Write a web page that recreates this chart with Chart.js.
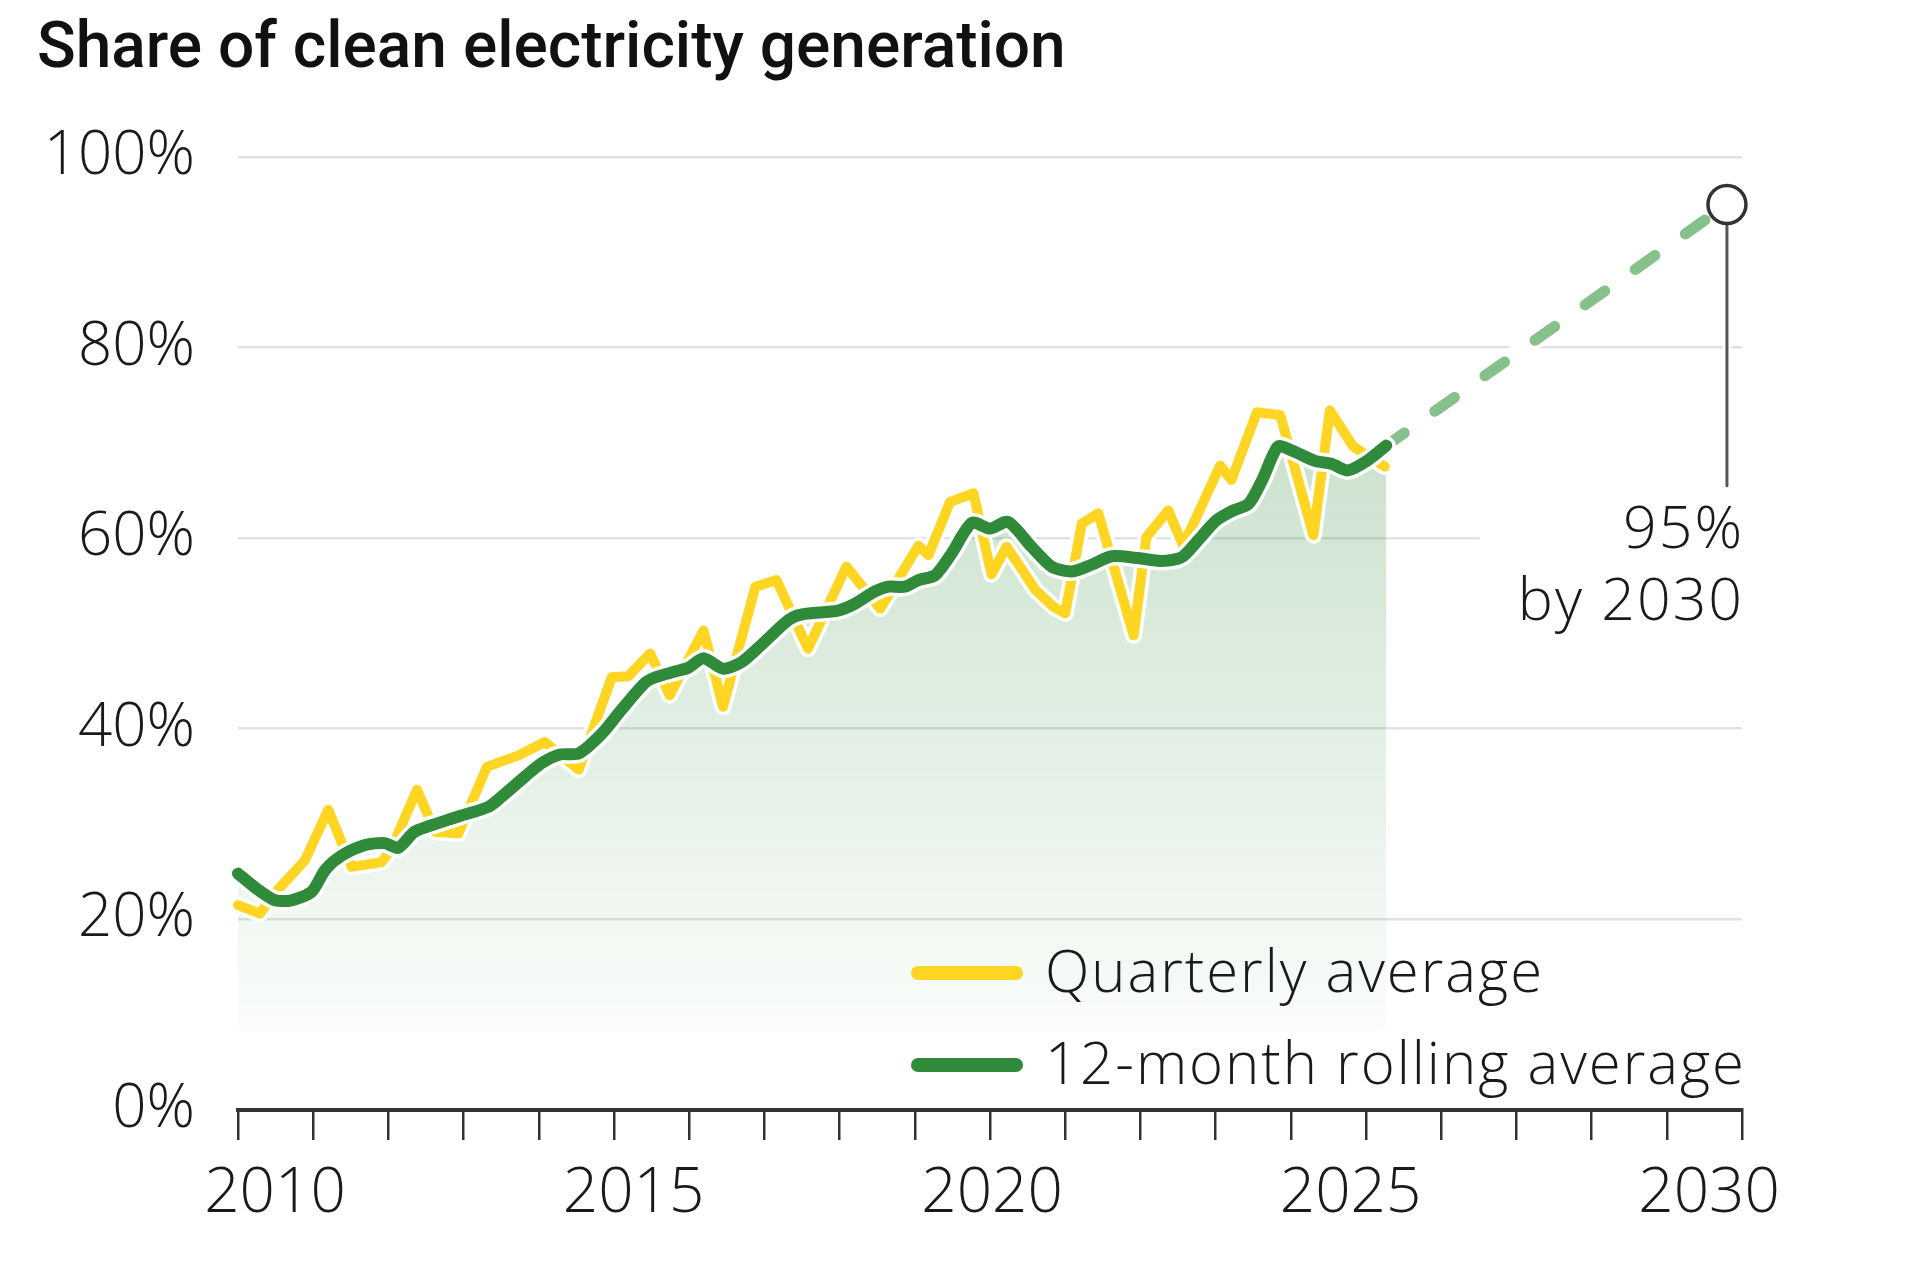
<!DOCTYPE html>
<html>
<head>
<meta charset="utf-8">
<script src="https://cdn.jsdelivr.net/npm/chart.js@4.4.1/dist/chart.umd.min.js"></script>
<style>
  html, body { margin: 0; padding: 0; background: #ffffff; }
  #wrap { position: relative; width: 1920px; height: 1274px; }
  canvas { display: block; }
</style>
</head>
<body>
<div id="wrap"><canvas id="c" width="1920" height="1274"></canvas></div>
<script>
// ---------------- data ----------------
const titleText = 'Share of clean electricity generation';
const yTickValues = [0, 20, 40, 60, 80, 100];
const xLabelYears = [2010, 2015, 2020, 2025, 2030];
const legendLabels = ['Quarterly average', '12-month rolling average'];

const quarterlyYears = [
  2010.00, 2010.29, 2010.54, 2010.89, 2011.20, 2011.51, 2011.91, 2012.04, 2012.38, 2012.62,
  2012.93, 2013.31, 2013.73, 2014.08, 2014.53, 2014.97, 2015.19, 2015.48, 2015.74, 2016.19,
  2016.45, 2016.88, 2017.16, 2017.58, 2018.09, 2018.54, 2019.05, 2019.18, 2019.47, 2019.78,
  2020.02, 2020.22, 2020.40, 2020.60, 2020.84, 2021.00, 2021.22, 2021.44, 2021.91, 2022.08,
  2022.37, 2022.57, 2023.06, 2023.21, 2023.55, 2023.86, 2024.30, 2024.52, 2024.83, 2025.25
];
const quarterlyValues = [
  21.5, 20.6, 23.2, 26.2, 31.5, 25.5, 26.0, 27.4, 33.6, 29.2,
  29.0, 36.0, 37.2, 38.6, 35.7, 45.4, 45.5, 47.9, 43.5, 50.3,
  42.3, 54.9, 55.6, 48.4, 57.0, 52.6, 59.2, 58.2, 63.8, 64.7,
  56.2, 59.1, 57.0, 54.6, 52.8, 52.1, 61.5, 62.6, 49.8, 60.1,
  62.9, 59.2, 67.6, 66.1, 73.2, 72.9, 60.3, 73.4, 69.6, 67.5
];

const rollingYears = [
  2010.00, 2010.25, 2010.49, 2010.71, 2010.98, 2011.16, 2011.38, 2011.69, 2011.95, 2012.13,
  2012.35, 2012.66, 2012.93, 2013.33, 2013.51, 2013.82, 2014.04, 2014.28, 2014.53, 2014.84,
  2015.10, 2015.41, 2015.55, 2015.81, 2015.99, 2016.19, 2016.45, 2016.70, 2016.96, 2017.32,
  2017.50, 2017.98, 2018.20, 2018.47, 2018.65, 2018.87, 2019.05, 2019.27, 2019.49, 2019.76,
  2020.00, 2020.24, 2020.55, 2020.82, 2021.09, 2021.35, 2021.62, 2021.97, 2022.28, 2022.55,
  2022.77, 2023.00, 2023.21, 2023.44, 2023.62, 2023.83, 2024.01, 2024.32, 2024.54, 2024.76,
  2025.03, 2025.27
];
const rollingValues = [
  24.8, 23.2, 22.0, 22.0, 22.9, 25.2, 26.7, 27.8, 28.0, 27.5,
  29.2, 30.1, 30.8, 31.8, 32.9, 35.0, 36.4, 37.3, 37.4, 39.5,
  42.0, 44.8, 45.4, 46.0, 46.4, 47.4, 46.3, 47.0, 48.8, 51.4,
  52.0, 52.4, 53.1, 54.4, 54.9, 54.9, 55.6, 56.1, 58.4, 61.6,
  61.0, 61.7, 59.1, 57.0, 56.5, 57.2, 58.1, 57.9, 57.6, 58.0,
  59.8, 61.8, 62.8, 63.6, 66.1, 69.6, 69.2, 68.1, 67.8, 67.1,
  68.2, 69.7
];

const projectionYears = [2025.27, 2029.8];
const projectionValues = [69.7, 95];
const targetYear = 2029.8;
const targetValue = 95;
const targetStemEnd = 65.5;
const targetLabel = ['95%', 'by 2030'];
const fillFloor = 8.5;

// ---------------- styling ----------------
const YELLOW = '#ffd523';
const GREEN = '#2f8b3a';
const PROJ = '#86c08a';
const TEXT = '#1a1a1a';
const FONT = 'Open Sans';

const pts = (xs, ys) => xs.map((x, i) => ({ x: x, y: ys[i] }));

const base = {
  pointRadius: 0, pointHoverRadius: 0, fill: false,
  borderCapStyle: 'round', borderJoinStyle: 'round', tension: 0, clip: false
};

function fillGradient(context) {
  const chart = context.chart;
  const area = chart.chartArea;
  if (!area) return 'rgba(0,0,0,0)';
  const y = chart.scales.y;
  const g = chart.ctx.createLinearGradient(0, y.getPixelForValue(100), 0, y.getPixelForValue(fillFloor));
  g.addColorStop(0, 'rgba(47,139,58,0.36)');
  g.addColorStop(1, 'rgba(47,139,58,0.025)');
  return g;
}

const overlay = {
  id: 'overlay',
  afterDatasetsDraw(chart) {
    const { ctx, scales } = chart;
    const x = scales.x, y = scales.y;
    ctx.save();
    if ('letterSpacing' in ctx) ctx.letterSpacing = '2px';
    // target annotation text with white backing
    ctx.font = '300 59px "' + FONT + '"';
    const right = x.getPixelForValue(2030);
    const w = Math.max(...targetLabel.map(t => ctx.measureText(t).width));
    const top = y.getPixelForValue(targetStemEnd);
    ctx.fillStyle = '#ffffff';
    ctx.fillRect(right - w - 36, top + 8, w + 60, 150);
    ctx.fillStyle = TEXT;
    ctx.textAlign = 'right';
    ctx.textBaseline = 'middle';
    targetLabel.forEach((t, i) => ctx.fillText(t, right + 2, top + 46 + i * 72));

    // legend
    const items = [
      { label: legendLabels[0], color: YELLOW },
      { label: legendLabels[1], color: GREEN }
    ];
    ctx.font = '300 58px "' + FONT + '"';
    ctx.textAlign = 'left';
    items.forEach((it, i) => {
      const cy = 973 + i * 92;
      ctx.strokeStyle = it.color;
      ctx.lineWidth = 14;
      ctx.lineCap = 'round';
      ctx.beginPath();
      ctx.moveTo(918, cy);
      ctx.lineTo(1016, cy);
      ctx.stroke();
      ctx.fillStyle = TEXT;
      ctx.fillText(it.label, 1045, cy + 2);
    });
    ctx.restore();
  }
};

function draw() {
  Chart.defaults.font.family = FONT;
  Chart.defaults.color = TEXT;
  new Chart(document.getElementById('c'), {
    type: 'line',
    data: {
      datasets: [
        { ...base, data: pts(rollingYears, rollingValues), borderWidth: 0, borderColor: 'rgba(0,0,0,0)',
          fill: { value: fillFloor }, backgroundColor: fillGradient, tension: 0.25, order: 10 },
        { ...base, data: pts(quarterlyYears, quarterlyValues), borderColor: '#ffffff', borderWidth: 17, order: 9 },
        { ...base, label: legendLabels[0], data: pts(quarterlyYears, quarterlyValues), borderColor: YELLOW, borderWidth: 10, order: 8 },
        { ...base, data: pts(projectionYears, projectionValues), borderColor: '#ffffff', borderWidth: 18, order: 7 },
        { ...base, data: pts(projectionYears, projectionValues), borderColor: PROJ, borderWidth: 11,
          borderDash: [24, 37.4], borderDashOffset: 2, order: 6 },
        { ...base, data: pts(rollingYears, rollingValues), borderColor: '#ffffff', borderWidth: 19, tension: 0.25, order: 5 },
        { ...base, label: legendLabels[1], data: pts(rollingYears, rollingValues), borderColor: GREEN, borderWidth: 12, tension: 0.25, order: 4 },
        { ...base, data: [{ x: targetYear, y: targetValue }, { x: targetYear, y: targetStemEnd }],
          borderColor: '#ffffff', borderWidth: 9, borderCapStyle: 'butt', order: 3 },
        { ...base, data: [{ x: targetYear, y: targetValue }, { x: targetYear, y: targetStemEnd }],
          borderColor: '#555555', borderWidth: 3, borderCapStyle: 'butt', order: 2 },
        { ...base, data: [{ x: targetYear, y: targetValue }], showLine: false, pointRadius: 19,
          pointBackgroundColor: '#ffffff', pointBorderColor: '#333333', pointBorderWidth: 3.5, order: 1 }
      ]
    },
    options: {
      responsive: false,
      devicePixelRatio: 1,
      animation: false,
      events: [],
      layout: { padding: { left: 37, right: 178, top: 0, bottom: 0 } },
      plugins: {
        legend: { display: false },
        tooltip: { enabled: false },
        filler: { drawTime: 'beforeDatasetsDraw' },
        title: {
          display: true, text: titleText, align: 'start', color: '#111111',
          font: { family: 'Roboto', size: 64, weight: '500', lineHeight: 1.2 },
          padding: { top: 13, bottom: 67 }
        }
      },
      scales: {
        x: {
          type: 'linear', position: 'bottom', min: 2010, max: 2030, weight: 0,
          ticks: { stepSize: 1, display: false },
          grid: { drawOnChartArea: false, drawTicks: true, tickLength: 30, tickColor: '#333333', tickWidth: 2.5, color: '#333333', lineWidth: 2.5 },
          border: { display: true, color: '#333333', width: 4 },
          afterFit: s => { s.height = 30; }
        },
        x2: {
          type: 'linear', position: 'bottom', min: 2009.484, max: 2030.459, weight: 1,
          afterBuildTicks: s => { s.ticks = xLabelYears.map(v => ({ value: v })); },
          ticks: { autoSkip: false, maxRotation: 0, padding: 17, color: TEXT,
                   font: { family: FONT, size: 62, weight: '300' }, callback: v => String(v) },
          grid: { display: false, drawTicks: false },
          border: { display: false },
          afterFit: s => { s.height = 134; }
        },
        y: {
          type: 'linear', min: 0, max: 100,
          afterBuildTicks: s => { s.ticks = yTickValues.map(v => ({ value: v })); },
          ticks: { padding: 43, color: TEXT, font: { family: FONT, size: 60, weight: '300' }, callback: v => v + '%' },
          grid: { color: '#e2e2e2', lineWidth: 2.5, drawTicks: false },
          border: { display: false },
          afterFit: s => { s.width = 201; }
        }
      }
    },
    plugins: [overlay]
  });
}

Promise.all([
  document.fonts.load('300 60px "Open Sans"'),
  document.fonts.load('500 64px Roboto')
]).then(draw, draw);
</script>
</body>
</html>
